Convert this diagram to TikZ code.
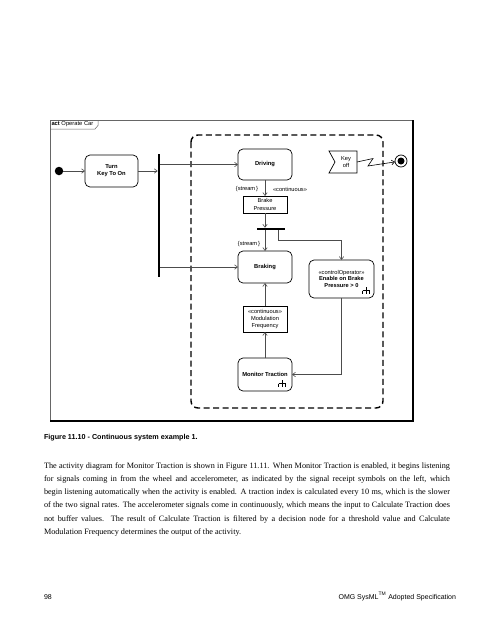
\documentclass[tikz,border=0pt]{standalone}
\usepackage{fontspec}
\setmainfont{Liberation Serif}
\setsansfont{Liberation Sans}
\usetikzlibrary{arrows.meta}
\tikzset{
  rake/.pic={\draw[line width=0.55pt] (0,-3.5) -- (0,3.5) (-3.5,0) -- (3.5,0) (-3.5,0) -- (-3.5,3.5) (3.5,0) -- (3.5,3.5);}
}
\begin{document}
\begin{tikzpicture}[x=1pt,y=-1pt,
  every node/.style={inner sep=0pt, outer sep=0pt},
  dtext/.style={font=\sffamily\fontsize{5.7}{7.2}\selectfont, align=center},
  actbox/.style={draw=black, line width=0.7pt, rounded corners=5pt, align=center, font=\sffamily\bfseries\fontsize{5.8}{7}\selectfont},
  pinbox/.style={draw=black, line width=0.7pt, dtext},
  flow/.style={draw=black!70, line width=0.6pt, -{Straight Barb[length=3pt,width=4.5pt]}},
  bar/.style={fill=black, draw=none},
  para/.style={anchor=base west, font=\fontsize{8.2}{13.3}\selectfont},
]
\useasboundingbox (0,0) rectangle (482,640);

% frame
\draw[black!60, line width=0.5pt] (50,421) -- (50,120) -- (413,120);
\draw[black, line width=1.6pt] (413,120) -- (413,421) -- (50,421);
\draw[black!60, line width=0.5pt] (50,129) -- (95,129) -- (98,125.5) -- (98,120);
\node[anchor=west, font=\sffamily\fontsize{5.8}{7}\selectfont] (framelabel) at (51.5,124.5) {\textbf{act} Operate Car};

% interruptible region
\draw[line width=1.4pt, dash pattern=on 6pt off 3.5pt, rounded corners=7pt] (191,135) rectangle (383,408);

% nodes
\node[circle, fill=black, minimum size=8.5pt] (init) at (59,171) {};
\node[actbox, minimum width=53pt, minimum height=32pt] (turn) at (111.5,171) {Turn\\Key To On};
\node[bar, minimum width=2.6pt, minimum height=123pt] (fork) at (159,215.5) {};
\node[actbox, minimum width=54pt, minimum height=31pt] (driving) at (265,164.5) {Driving};
\node[pinbox, minimum width=44pt, minimum height=17pt] (brakep) at (265,204.5) {Brake\\Pressure};
\node[bar, minimum width=28pt, minimum height=2.6pt] (join) at (271,229) {};
\node[actbox, minimum width=54pt, minimum height=32pt] (braking) at (265,267) {Braking};
\node[pinbox, minimum width=44pt, minimum height=26pt] (modf) at (265,319) {«continuous»\\Modulation\\Frequency};
\node[actbox, minimum width=65pt, minimum height=38pt, font=\sffamily\fontsize{5.7}{6.6}\selectfont] (enable) at (341.5,279) {«controlOperator»\\[-0.3pt]\textbf{Enable on Brake}\\\textbf{Pressure > 0}};
\node[actbox, minimum width=54pt, minimum height=33pt] (monitor) at (265,374.5) {Monitor Traction};
\pic at (366,290.5) {rake};
\pic at (282,383.5) {rake};

% key off accept event
\draw[black, line width=0.7pt] (329,151) -- (357,151) -- (357,173) -- (329,173) -- (335,162) -- cycle;
\node[dtext] (keyoff) at (346,162) {Key\\off};
\node[circle, draw=black, line width=0.7pt, minimum size=12pt] (final) at (401,161) {};
\node[circle, fill=black, minimum size=7pt] (finaldot) at (final) {};

% labels
\node[dtext] (stream1) at (247,189) {\{stream\,\}};
\node[dtext] (cont1) at (290,189) {«continuous»};
\node[dtext] (stream2) at (249,244) {\{stream\,\}};

% flows
\draw[flow] (init) -- (turn.west);
\draw[flow] (turn.east) -- (fork.west |- turn.east);
\draw[flow] (fork.east |- driving.west) -- (driving.west);
\draw[flow] (fork.east |- braking.west) -- (braking.west);
\draw[flow] (driving.south) -- (brakep.north);
\draw[flow] (brakep.south) -- (brakep.south |- join.north);
\draw[flow] (join.south -| braking.north) -- (braking.north);
\coordinate (jtap) at (278,229);
\draw[flow] (join.south -| jtap) -- ++(0,10) -| (enable.north);
\draw[flow] (modf.north) -- (braking.south);
\draw[flow] (monitor.north) -- (modf.south);
\draw[flow] (enable.south) |- (monitor.east);
\draw[black, line width=0.6pt, -{Straight Barb[length=3pt,width=4.5pt]}] (keyoff.east -| 357,0) -- (373,158.5) -- (368,166) -- (final);

% caption and text
\node[anchor=base west, font=\sffamily\bfseries\fontsize{7.2}{8}\selectfont] (caption) at (44,439.5) {Figure 11.10 - Continuous system example 1.};
\node[para] (l1) at (44,468) {\hbox to 406pt{The activity diagram for Monitor Traction is shown in Figure 11.11. When Monitor Traction is enabled, it begins listening}};
\node[para] (l2) at (44,481.3) {\hbox to 406pt{for signals coming in from the wheel and accelerometer, as indicated by the signal receipt symbols on the left, which}};
\node[para] (l3) at (44,494.6) {\hbox to 406pt{begin listening automatically when the activity is enabled. A traction index is calculated every 10 ms, which is the slower}};
\node[para] (l4) at (44,507.9) {\hbox to 406pt{of the two signal rates. The accelerometer signals come in continuously, which means the input to Calculate Traction does}};
\node[para] (l5) at (44,521.2) {\hbox to 406pt{not buffer values. The result of Calculate Traction is filtered by a decision node for a threshold value and Calculate}};
\node[para] (l6) at (44,534.5) {Modulation Frequency determines the output of the activity.};

% footer
\node[anchor=base west, font=\sffamily\fontsize{7}{8}\selectfont] (pagenum) at (44,599) {98};
\node[anchor=base east, font=\sffamily\fontsize{7}{8}\selectfont] (footer) at (456,599) {OMG SysML\textsuperscript{TM} Adopted Specification};
\end{tikzpicture}
\end{document}
